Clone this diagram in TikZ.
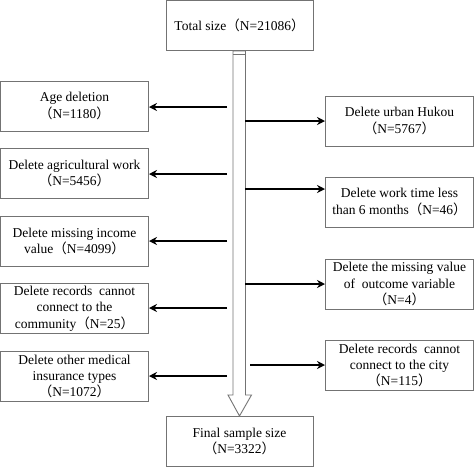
\documentclass[tikz,border=0pt]{standalone}
\usepackage{fontspec}
\setmainfont{Liberation Serif}
\newfontfamily\cjk{Noto Sans CJK SC}
\usetikzlibrary{calc,arrows.meta}
\newcommand{\lp}{{\cjk （}}
\newcommand{\rp}{{\cjk ）}}
\definecolor{boxgray}{gray}{0.45}
\tikzset{
  box/.style={draw=boxgray, line width=1pt, fill=white, align=center, inner sep=0pt,
    font=\fontsize{13.5}{16.3}\selectfont},
  lbox/.style={box, minimum width=148pt, minimum height=50pt},
  rbox/.style={box, minimum width=148pt, minimum height=50pt},
  cbox/.style={box, minimum width=147pt, minimum height=50pt},
  flow/.style={draw=black, line width=1.8pt, -{Stealth[length=8pt,width=8pt]}},
  block/.style={draw=boxgray, line width=0.9pt, fill=white}
}
\begin{document}
\begin{tikzpicture}[x=1pt,y=-1pt]
\useasboundingbox (0,0) rectangle (474,467);
\node[cbox] (total) at (239.5,25.5) {Total size\lp N=21086\rp};
\node[cbox] (final) at (239.5,441.5) {Final sample size\\\lp N=3322\rp};
% block arrow
\draw[block] ($(total.south)+(-6.5,0)$) -- ($(final.north)+(-6.5,-21)$) -- ($(final.north)+(-11.5,-21)$)
  -- (final.north) -- ($(final.north)+(12,-21)$) -- ($(final.north)+(6,-21)$) -- ($(total.south)+(6,0)$) -- cycle;
\draw[boxgray, line width=0.6pt] ($(total.south)+(-6.5,3)$) -- ($(total.south)+(6,3)$);
% left boxes
\node[lbox] (l1) at (74.5,106) {Age deletion\\\lp N=1180\rp};
\node[lbox] (l2) at (74.5,173.5) {Delete agricultural work\\\lp N=5456\rp};
\node[lbox] (l3) at (74.5,241.5) {Delete missing income\\value\lp N=4099\rp};
\node[lbox] (l4) at (74.5,308.5) {Delete records\ \ cannot\\connect to the\\community\lp N=25\rp};
\node[lbox] (l5) at (74.5,376.5) {Delete other medical\\insurance types\\\lp N=1072\rp};
% right boxes
\node[rbox] (r1) at (399.5,121) {Delete urban Hukou\\\lp N=5767\rp};
\node[rbox] (r2) at (399.5,202) {Delete work time less\\than 6 months\lp N=46\rp};
\node[rbox] (r3) at (399.5,284) {Delete the missing value\\of\ \ outcome variable\\\lp N=4\rp};
\node[rbox] (r4) at (399.5,365.5) {Delete records\ \ cannot\\connect to the city\\\lp N=115\rp};
% arrow start coordinates
\coordinate (a1) at (227,107);
\coordinate (a2) at (227,174);
\coordinate (a3) at (227,241);
\coordinate (a4) at (227,308);
\coordinate (a5) at (227,376);
\coordinate (b1) at (245,121);
\coordinate (b2) at (245,189);
\coordinate (b3) at (245,284);
\coordinate (b4) at (250,365);
\draw[flow] (a1) -- (a1 -| l1.east);
\draw[flow] (a2) -- (a2 -| l2.east);
\draw[flow] (a3) -- (a3 -| l3.east);
\draw[flow] (a4) -- (a4 -| l4.east);
\draw[flow] (a5) -- (a5 -| l5.east);
\draw[flow] (b1) -- (b1 -| r1.west);
\draw[flow] (b2) -- (b2 -| r2.west);
\draw[flow] (b3) -- (b3 -| r3.west);
\draw[flow] (b4) -- (b4 -| r4.west);
\end{tikzpicture}
\end{document}
